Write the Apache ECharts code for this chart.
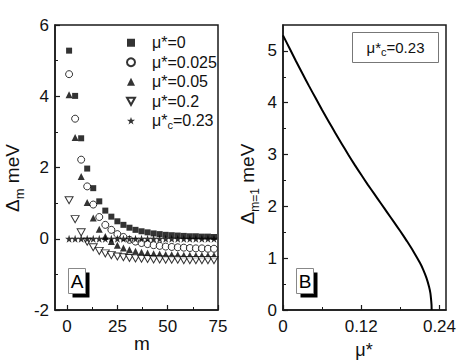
<!DOCTYPE html>
<html><head><meta charset="utf-8">
<script src="https://cdn.jsdelivr.net/npm/echarts@6/dist/echarts.min.js"></script>
<style>html,body{margin:0;padding:0;background:#fff}#c{width:474px;height:363px}</style>
</head><body><div id="c"></div>
<script>
// ---- data ----
const mValues = [1,4,7,10,13,16,19,22,25,28,31,34,37,40,43,46,49,52,55,58,61,64,67,70,73];
const seriesNames = ['μ*=0','μ*=0.025','μ*=0.05','μ*=0.2','μ*c=0.23'];
const delta_mu0    = [5.28,4.01,2.82,1.97,1.42,1.05,0.79,0.62,0.49,0.39,0.31,0.25,0.21,0.18,0.15,0.13,0.11,0.10,0.09,0.08,0.07,0.07,0.06,0.06,0.05];
const delta_mu025  = [4.62,3.37,2.22,1.47,0.96,0.61,0.39,0.25,0.13,0.05,-0.03,-0.08,-0.12,-0.15,-0.18,-0.20,-0.22,-0.23,-0.24,-0.25,-0.26,-0.27,-0.27,-0.28,-0.28];
const delta_mu05   = [4.04,2.84,1.75,1.02,0.58,0.27,0.06,-0.08,-0.18,-0.26,-0.31,-0.35,-0.38,-0.40,-0.42,-0.43,-0.44,-0.45,-0.45,-0.46,-0.46,-0.47,-0.47,-0.47,-0.47];
const delta_mu2    = [1.08,0.55,0.18,-0.08,-0.24,-0.34,-0.41,-0.46,-0.50,-0.52,-0.54,-0.55,-0.56,-0.57,-0.58,-0.58,-0.59,-0.59,-0.59,-0.60,-0.60,-0.60,-0.60,-0.60,-0.60];
const delta_mu23   = [0,0,0,0,0,0,0,0,0,0,0,0,0,0,0,0,0,0,0,0,0,0,0,0,0];
const muStar  = [0,0.01,0.02,0.03,0.04,0.05,0.06,0.07,0.08,0.09,0.10,0.11,0.12,0.13,0.14,0.15,0.16,0.17,0.18,0.19,0.20,0.21,0.215,0.22,0.224,0.226,0.227,0.2278,0.228];
const deltaM1 = [5.30,5.05,4.80,4.56,4.32,4.09,3.86,3.64,3.42,3.21,3.00,2.80,2.61,2.42,2.24,2.06,1.88,1.70,1.52,1.33,1.13,0.91,0.78,0.62,0.45,0.33,0.22,0.10,0];
const ticksA_x = [0,25,50,75], minorA_x = [12.5,37.5,62.5];
const ticksA_y = [-2,0,2,4,6], minorA_y = [-1,1,3,5];
const ticksB_x = [0,0.12,0.24], minorB_x = [0.06,0.18];
const ticksB_y = [0,1,2,3,4,5], minorB_y = [0.5,1.5,2.5,3.5,4.5];

const FONT = 'Liberation Sans';
const AX = '#1a1a1a';
const chart = echarts.init(document.getElementById('c'), null, {renderer:'svg'});

function zip(xs, ys){ return xs.map((x,i)=>[x,ys[i]]); }
function mainAxis(gi, min, max, ticks, isY, labelFmt){
  return {
    type:'value', gridIndex:gi, min:min, max:max, position: isY?'left':'bottom',
    axisLine:{show:true, onZero:false, lineStyle:{color:AX, width:1.5}},
    axisTick:{show:true, inside:true, length:5, customValues:ticks, lineStyle:{color:AX, width:1.2}},
    axisLabel:{show:true, customValues:ticks, fontFamily:FONT, fontSize:17, color:'#111', margin: isY?6:8,
      formatter: labelFmt || (v=>String(v))},
    splitLine:{show:false}
  };
}
function minorAxis(gi, min, max, ticks, isY){
  return {
    type:'value', gridIndex:gi, min:min, max:max, position: isY?'left':'bottom',
    axisLine:{show:false, onZero:false},
    axisTick:{show:true, inside:true, length:3, customValues:ticks, lineStyle:{color:AX, width:1}},
    axisLabel:{show:false}, splitLine:{show:false}
  };
}

const markerStyles = [
  {symbol:'rect', size:6, itemStyle:{color:'#000'}},
  {symbol:'circle', size:7, itemStyle:{color:'#fff', borderColor:'#000', borderWidth:1}},
  {symbol:'triangle', size:7, itemStyle:{color:'#000'}},
  {symbol:'path://M0,0 L10,0 L5,9 Z', size:[8,7], itemStyle:{color:'#fff', borderColor:'#000', borderWidth:1}},
  {symbol:'path://M5,0 L6.2,3.6 L10,3.6 L6.9,5.9 L8.1,9.5 L5,7.3 L1.9,9.5 L3.1,5.9 L0,3.6 L3.8,3.6 Z', size:8, itemStyle:{color:'#000'}}
];
const seriesData = [delta_mu0, delta_mu025, delta_mu05, delta_mu2, delta_mu23];

const scatterSeries = seriesData.map((d,i)=>({
  name: seriesNames[i], type:'scatter', xAxisIndex:0, yAxisIndex:0,
  symbol: markerStyles[i].symbol, symbolSize: markerStyles[i].size,
  itemStyle: markerStyles[i].itemStyle, data: zip(mValues, d), z: 3
}));

const sub = {n:{fontFamily:FONT, fontSize:16, color:'#111', lineHeight:19.5, verticalAlign:'middle'},
             s:{fontFamily:FONT, fontSize:11, color:'#111', lineHeight:19.5, verticalAlign:'bottom'}};

function boxLabel(x, y, letter){
  return {type:'group', left:x, top:y, children:[
    {type:'rect', shape:{x:4, y:4, width:17, height:25}, style:{fill:'#000'}},
    {type:'rect', shape:{x:0, y:0, width:17, height:25}, style:{fill:'#fff', stroke:'#888', lineWidth:1}},
    {type:'text', x:8.5, y:13, style:{text:letter, fontFamily:FONT, fontSize:19, fill:'#000', align:'center', verticalAlign:'middle'}}
  ]};
}

chart.setOption({
  animation:false,
  backgroundColor:'#fff',
  grid:[
    {left:55, top:25, width:163, height:285, show:true, borderColor:AX, borderWidth:1.5, backgroundColor:'transparent'},
    {left:283, top:25, width:163, height:285, show:true, borderColor:AX, borderWidth:1.5, backgroundColor:'transparent'}
  ],
  xAxis:[
    mainAxis(0, -6, 75, ticksA_x, false),
    minorAxis(0, -6, 75, minorA_x, false),
    mainAxis(1, 0, 0.25, ticksB_x, false, v=>v===0?'0':v.toFixed(2)),
    minorAxis(1, 0, 0.25, minorB_x, false)
  ],
  yAxis:[
    mainAxis(0, -2, 6, ticksA_y, true),
    minorAxis(0, -2, 6, minorA_y, true),
    mainAxis(1, 0, 5.5, ticksB_y, true),
    minorAxis(1, 0, 5.5, minorB_y, true)
  ],
  legend:{
    orient:'vertical', left:121, top:28, itemWidth:8, itemHeight:8, itemGap:0,
    data: seriesNames,
    textStyle:{fontFamily:FONT, fontSize:16, color:'#111', lineHeight:19.5, padding:[0,0,0,12], rich:sub},
    formatter: n => n==='μ*c=0.23' ? '{n|μ*}{s|c}{n|=0.23}' : '{n|'+n+'}'
  },
  series: scatterSeries.concat([{
    name:'Δm=1', type:'line', xAxisIndex:2, yAxisIndex:2, data: zip(muStar, deltaM1),
    showSymbol:false, smooth:0.2, lineStyle:{color:'#000', width:2}, z:3
  }]),
  graphic:[
    {type:'text', x:12, y:178, rotation:Math.PI/2,
     style:{text:'{b|Δ}{s|m}{b| meV}', align:'center', verticalAlign:'middle',
       rich:{b:{fontFamily:FONT, fontSize:19, fill:'#111', lineHeight:28, verticalAlign:'middle'},
             s:{fontFamily:FONT, fontSize:13, fill:'#111', lineHeight:28, verticalAlign:'bottom'}}}},
    {type:'text', x:247, y:184, rotation:Math.PI/2,
     style:{text:'{b|Δ}{s|m=1}{b| meV}', align:'center', verticalAlign:'middle',
       rich:{b:{fontFamily:FONT, fontSize:19, fill:'#111', lineHeight:28, verticalAlign:'middle'},
             s:{fontFamily:FONT, fontSize:12, fill:'#111', lineHeight:28, verticalAlign:'bottom'}}}},
    {type:'text', x:142, y:343, style:{text:'m', fontFamily:FONT, fontSize:19, fill:'#111', align:'center', verticalAlign:'middle'}},
    {type:'text', x:364, y:350, style:{text:'μ*', fontFamily:FONT, fontSize:18, fill:'#111', align:'center', verticalAlign:'middle'}},
    {type:'group', left:352, top:32, children:[
      {type:'rect', shape:{x:0, y:0, width:86, height:30}, style:{fill:'#fff', stroke:'#777', lineWidth:1}},
      {type:'text', x:43, y:15, style:{text:'{n|μ*}{s|c}{n|=0.23}', align:'center', verticalAlign:'middle',
        rich:{n:{fontFamily:FONT, fontSize:15, fill:'#111', lineHeight:20, verticalAlign:'middle'},
              s:{fontFamily:FONT, fontSize:11, fill:'#111', lineHeight:20, verticalAlign:'bottom'}}}}
    ]},
    boxLabel(68, 268, 'A'),
    boxLabel(296, 268, 'B')
  ]
});
</script></body></html>
